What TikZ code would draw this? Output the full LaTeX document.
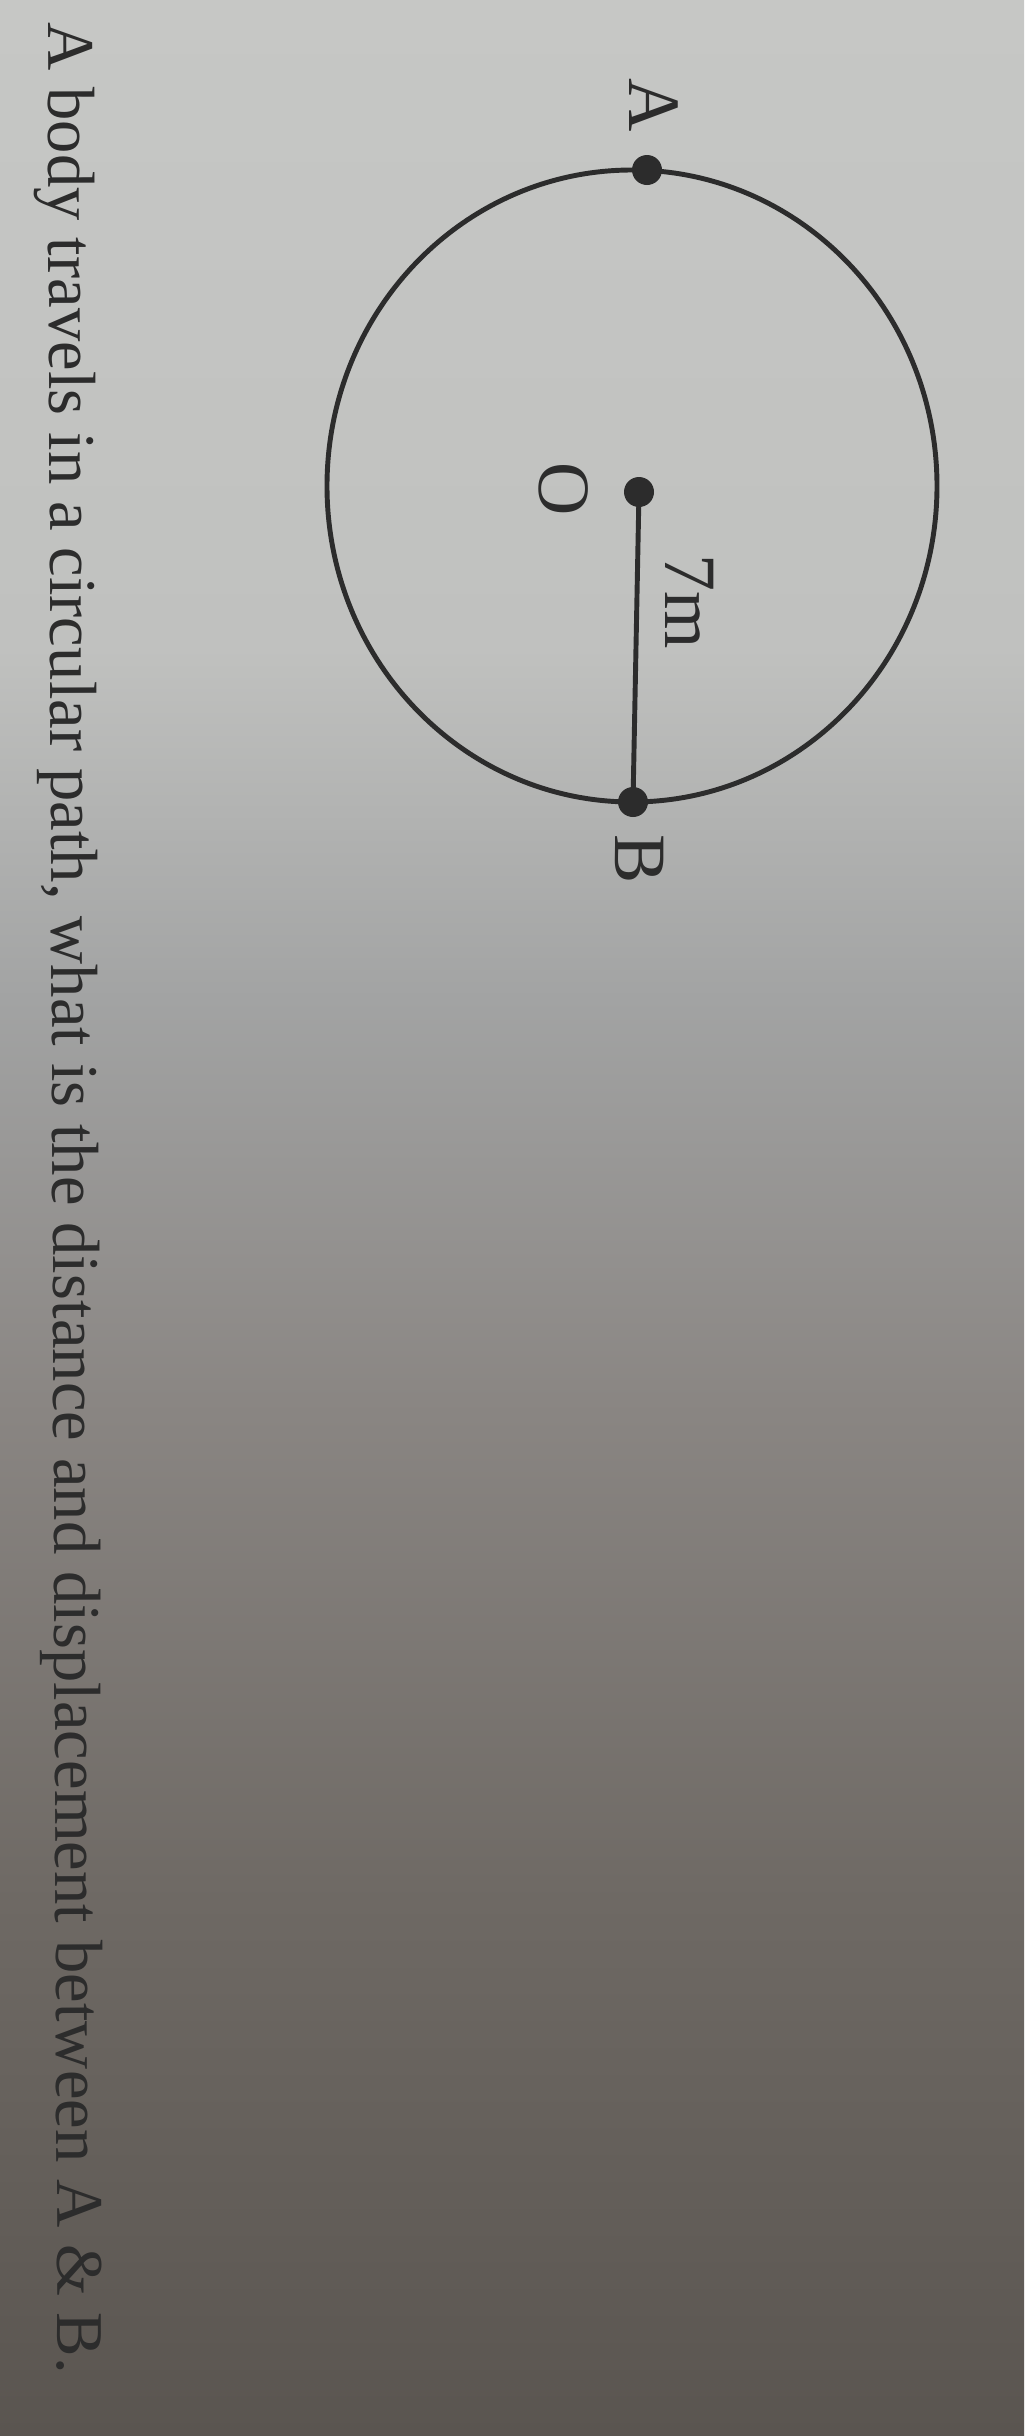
\documentclass[tikz,border=0pt]{standalone}
\usepackage{fontspec}
\setmainfont{Liberation Serif}
\usetikzlibrary{positioning}
\definecolor{ink}{HTML}{2C2C2C}
\definecolor{papertop}{HTML}{C6C7C5}
\definecolor{paperhi}{HTML}{C0C1BF}
\definecolor{papermid}{HTML}{A2A3A3}
\definecolor{paperlow}{HTML}{8A8683}
\definecolor{paperdeep}{HTML}{6E6964}
\definecolor{paperbot}{HTML}{5A5550}
\pgfdeclareverticalshading{paper}{100bp}{color(0bp)=(paperbot); color(25bp)=(paperbot);
  color(36bp)=(paperdeep); color(46.3bp)=(paperlow); color(54.5bp)=(papermid);
  color(61.7bp)=(paperhi); color(75bp)=(papertop); color(100bp)=(papertop)}

\begin{document}
\begin{tikzpicture}[scale=1.00,
  dot/.style={circle,fill=ink,inner sep=0pt,minimum size=0.30cm},
  lbl/.style={rotate=-90,text=ink,inner sep=0pt,font=\fontsize{21}{24}\selectfont}]
\shade[shading=paper] (0,0) rectangle (10.24,-24.36);
\useasboundingbox (0,0) rectangle (10.24,-24.36);

\draw[ink,line width=1.4pt] (6.32,-4.86) ellipse [x radius=3.05, y radius=3.16];

\node[dot] (A) at (6.47,-1.70) {};
\node[dot] (B) at (6.33,-8.02) {};
\node[dot] (O) at (6.39,-4.92) {};
\draw[ink,line width=1.4pt] (O.center) -- (B.center);

\node[lbl] (labA) at (6.54,-1.05) {A};
\node[lbl] (labB) at (6.40,-8.59) {B};
\node[lbl] (labO) at (5.64,-4.89) {O};
\node[lbl] (lab7) at (6.90,-6.02) {7m};

\node[lbl,rotate=0.24,anchor=base west,font=\fontsize{19}{22}\selectfont] (question) at (0.48,-0.22)
  {A body travels in a circular path, what is the distance and displacement between A \& B.};
\end{tikzpicture}
\end{document}
